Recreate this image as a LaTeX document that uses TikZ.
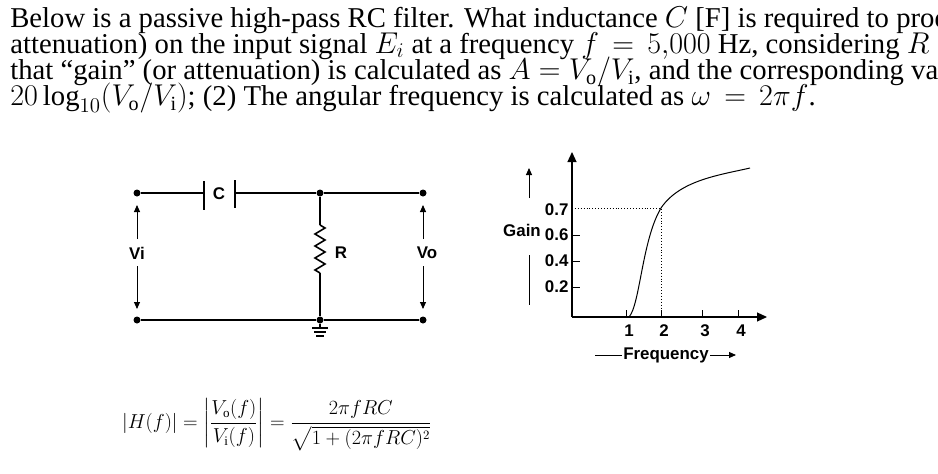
\documentclass[tikz,border=0pt]{standalone}
\usepackage{fontspec}
\usepackage{amsmath}
\setmainfont{Liberation Serif}
\newfontfamily\lsans{Liberation Sans}
\usetikzlibrary{arrows.meta,decorations.pathmorphing}
\newcommand{\bigtxt}{\fontsize{16.5}{19}\selectfont}
\newcommand{\lbtxt}{\lsans\fontsize{13}{15}\selectfont\bfseries}
\begin{document}
\begin{tikzpicture}[x=1pt,y=-1pt,
  wire/.style={line width=1.6pt},
  dot/.style={circle,fill,inner sep=0pt,minimum size=7pt},
  lbl/.style={inner sep=1pt,scale=1.3},
  varr/.style={-{Triangle[length=7pt,width=6pt]},line width=0.9pt},
  txt/.style={anchor=west,inner sep=0pt,scale=1.74}]
\useasboundingbox (0,0) rectangle (938,474);
\node[txt] (t1) at (10,20) {\bigtxt Below is a passive high-pass RC filter. What inductance $C$ [F] is required to produce a -10 dB gain (i.e.,};
\node[txt] (t2) at (10,46) {\bigtxt attenuation) on the input signal $E_i$ at a frequency $f\,=\,5{,}000$ Hz, considering $R\,=\,1{,}000\ \Omega$. \textbf{Hints:} (1) Recall};
\node[txt] (t3) at (10,72) {\bigtxt that ``gain'' (or attenuation) is calculated as $A = V_{\mathrm o}/V_{\mathrm i}$, and the corresponding value in decibels is $A =$};
\node[txt] (t4) at (10,98) {\bigtxt $20\log_{10}(V_{\mathrm o}/V_{\mathrm i})$; (2) The angular frequency is calculated as $\omega\,=\,2\pi f$.};
% circuit
\node[dot] (a) at (137,193) {};
\node[dot] (j) at (320,193) {};
\node[dot] (b) at (423,193) {};
\node[dot] (c) at (137,320) {};
\node[dot] (g) at (320,320) {};
\node[dot] (d) at (423,320) {};
\coordinate (p1) at (204,193); \coordinate (p2) at (235,193);
\draw[wire] (a) -- (p1); \draw[wire] (p2) -- (j) -- (b);
\draw[wire] (204,181) -- (204,210); \draw[wire] (235,180) -- (235,208);
\node[lbl] (cl) at (219,194) {\lbtxt C};
\draw[wire] (c) -- (g) -- (d);
\coordinate (r1) at (320,225); \coordinate (r2) at (320,273);
\draw[wire] (j) -- (r1);
\draw[wire,decoration={zigzag,segment length=12pt,amplitude=5pt}] (r1) decorate{-- (r2)};
\draw[wire] (r2) -- (g);
\node[lbl] (rl) at (341,253) {\lbtxt R};
\draw[line width=1.2pt] (g) -- (320,328) (312,328) -- (328,328) (314,332) -- (326,332) (316,336) -- (324,336);
\node[lbl] (vi) at (137,253) {\lbtxt Vi};
\coordinate (vi1) at (137,239); \coordinate (vi2) at (137,266);
\draw[varr] (vi1) -- (137,205); \draw[varr] (vi2) -- (137,309);
\node[lbl] (vo) at (427,253) {\lbtxt Vo};
\coordinate (vo1) at (423,239); \coordinate (vo2) at (423,266);
\draw[varr] (vo1) -- (423,205); \draw[varr] (vo2) -- (423,309);
% graph
\coordinate (o) at (572,317);
\draw[line width=1.2pt,-{Triangle[length=10pt,width=9pt]}] (o) -- (572,152);
\draw[line width=1.2pt,-{Triangle[length=10pt,width=9pt]}] (o) -- (767,317);
\foreach \x/\l in {626/1,661/2,702/3,738/4} {
  \draw[line width=0.9pt] (\x,317) -- (\x,310);
  \node[lbl] at (\x+3,331) {\lbtxt \l};}
\foreach \y/\l in {287/0.2,261/0.4,235/0.6} {
  \draw[line width=0.9pt] (572,\y) -- (580,\y);
  \node[lbl,anchor=east] at (570,\y) {\lbtxt \l};}
\node[lbl,anchor=east] at (570,210) {\lbtxt 0.7};
\draw[dotted,line width=0.9pt] (572,208) -- (661,208) -- (661,317);
\draw[line width=1pt] (629,317) .. controls (640,305) and (642,240) .. (661,208) .. controls (680,180) and (720,175) .. (750,168);
\node[lbl] (gain) at (522,230) {\lbtxt Gain};
\draw[varr] (529,198) -- (529,168);
\draw[line width=0.9pt] (529,255) -- (529,305);
\node[lbl] (fr) at (666,355) {\lbtxt Frequency};
\draw[line width=0.9pt] (595,355) -- (fr.west);
\draw[varr] (fr.east) -- (736,355);
% formula
\node[anchor=west,scale=1.17] (hf) at (118,425) {\fontsize{16}{19}\selectfont $|H(f)| = \left|\dfrac{V_{\mathrm o}(f)}{V_{\mathrm i}(f)}\right| = \dfrac{2\pi fRC}{\sqrt{1+(2\pi fRC)^2}}$};
\end{tikzpicture}
\end{document}
